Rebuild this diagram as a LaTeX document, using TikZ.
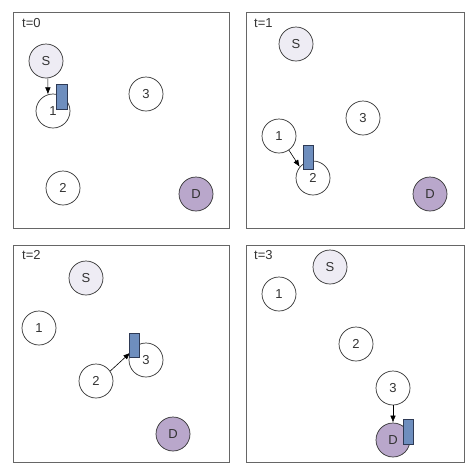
\documentclass[tikz,border=0pt]{standalone}
\usepackage{fontspec}
\setmainfont{Liberation Sans}
\usetikzlibrary{arrows.meta}
\definecolor{frm}{HTML}{666666}
\definecolor{txt}{HTML}{333333}
\definecolor{sfill}{HTML}{EEECF4}
\definecolor{dfill}{HTML}{B9A7CB}
\definecolor{pkt}{HTML}{6E8EBE}
\definecolor{pktb}{HTML}{2E3A55}
\begin{document}
\begin{tikzpicture}[x=1pt,y=-1pt,
  panel/.style={draw=frm,line width=1pt},
  nd/.style={circle,draw=txt,line width=0.7pt,fill=white,minimum size=34pt,inner sep=0pt,font=\fontsize{13}{14}\selectfont,text=txt},
  src/.style={nd,fill=sfill},
  dst/.style={nd,fill=dfill},
  tlab/.style={anchor=west,inner sep=0pt,font=\fontsize{13}{14}\selectfont,text=txt},
  pktbox/.style={draw=pktb,fill=pkt,line width=0.6pt},
  hop/.style={-{Latex[length=7pt,width=5.5pt]},line width=0.6pt,black}]
\useasboundingbox (0,0) rectangle (474,472);
% panel t=0
\draw[panel] (13,12) rectangle (229,228);
\node[tlab] (t0) at (22,23) {t=0};
\node[src] (S0) at (46,61) {S};
\node[nd] (a0) at (53,111) {1};
\node[nd] (b0) at (63,188) {2};
\node[nd] (c0) at (146,94) {3};
\node[dst] (D0) at (196,194) {D};
\draw[hop] (S0.-84) -- (a0.107);
\filldraw[pktbox] (56,84) rectangle (67,109);
% panel t=1
\draw[panel] (246,12) rectangle (464,228);
\node[tlab] (t1) at (254,23) {t=1};
\node[src] (S1) at (296,44) {S};
\node[nd] (a1) at (279,136) {1};
\node[nd] (b1) at (313,178) {2};
\node[nd] (c1) at (363,118) {3};
\node[dst] (D1) at (430,194) {D};
\draw[hop] (a1.-55) -- (b1.140);
\filldraw[pktbox] (303,145) rectangle (313,169);
% panel t=2
\draw[panel] (13,245) rectangle (229,462);
\node[tlab] (t2) at (22,255) {t=2};
\node[src] (S2) at (86,278) {S};
\node[nd] (a2) at (39,328) {1};
\node[nd] (b2) at (96,381) {2};
\node[nd] (c2) at (146,360) {3};
\node[dst] (D2) at (173,434) {D};
\draw[hop] (b2.35) -- (c2.155);
\filldraw[pktbox] (129,333) rectangle (139,357);
% panel t=3
\draw[panel] (246,245) rectangle (464,462);
\node[tlab] (t3) at (254,255) {t=3};
\node[src] (S3) at (330,267) {S};
\node[nd] (a3) at (279,294) {1};
\node[nd] (b3) at (356,344) {2};
\node[nd] (c3) at (393,388) {3};
\node[dst] (D3) at (393,440) {D};
\draw[hop] (c3.south) -- (D3.north);
\filldraw[pktbox] (403,419) rectangle (413,444);
\end{tikzpicture}
\end{document}
